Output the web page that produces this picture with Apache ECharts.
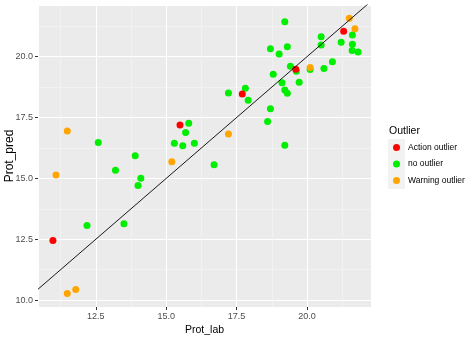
<!DOCTYPE html>
<html>
<head>
<meta charset="utf-8">
<script src="https://cdn.jsdelivr.net/npm/echarts@6/dist/echarts.min.js"></script>
<style>html,body{margin:0;padding:0;background:#fff}#c{width:474px;height:338px}</style>
</head>
<body>
<div id="c"></div>
<script>
var categories = ['Action outlier', 'no outlier', 'Warning outlier'];
var actionX = [10.98, 15.49, 17.70, 19.60, 21.30];
var actionY = [12.45, 17.19, 18.47, 19.48, 21.04];
var warningX = [11.49, 11.09, 11.49, 11.79, 15.20, 17.21, 20.11, 21.50, 21.70];
var warningY = [16.95, 15.14, 10.27, 10.44, 15.68, 16.82, 19.55, 21.58, 21.14];
var noX = [12.59, 13.90, 15.80, 15.69, 15.29, 15.59, 16.00, 13.20, 14.10, 14.00, 12.19, 13.50, 16.70,
  19.21, 20.50, 21.61, 20.50, 21.21, 21.61, 21.60, 21.81, 18.70, 19.01, 19.30, 20.90, 20.60, 20.11,
  19.41, 19.62, 18.80, 19.72, 19.11, 19.21, 19.30, 17.81, 17.21, 17.91, 18.70, 18.60, 19.21];
var noY = [16.47, 15.93, 17.26, 16.89, 16.44, 16.34, 16.44, 15.33, 15.01, 14.71, 13.07, 13.14, 15.56,
  21.43, 20.82, 20.89, 20.48, 20.59, 20.51, 20.25, 20.19, 20.32, 20.11, 20.41, 19.79, 19.51, 19.47,
  19.60, 19.40, 19.28, 18.95, 18.93, 18.63, 18.50, 18.70, 18.51, 18.21, 17.86, 17.34, 16.36];
var colors = ['#FF0000', '#00EE00', '#FFA500'];
var xRange = [10.45, 22.27];
var yRange = [9.72, 22.12];

function zip(a, b) { return a.map(function (v, i) { return [v, b[i]]; }); }

var chart = echarts.init(document.getElementById('c'), null, {renderer: 'canvas'});
var axisCommon = {
  type: 'value',
  minInterval: 2.5,
  maxInterval: 2.5,
  axisLine: {show: false},
  axisTick: {show: true, length: 3, lineStyle: {color: '#333333', width: 1}},
  axisLabel: {color: '#4D4D4D', fontSize: 9, fontFamily: 'Liberation Sans, Arial', showMinLabel: false, showMaxLabel: false,
    margin: 5, formatter: function (v) { return v.toFixed(1); }},
  splitLine: {show: true, lineStyle: {color: '#FFFFFF', width: 1}},
  minorTick: {show: false, splitNumber: 2},
  minorSplitLine: {show: true, lineStyle: {color: '#F5F5F5', width: 0.7}},
  nameLocation: 'middle',
  nameMoveOverlap: false,
  nameTextStyle: {color: '#000', fontSize: 10.5, fontFamily: 'Liberation Sans, Arial'}
};
var xAxis = Object.assign({}, axisCommon, {min: xRange[0], max: xRange[1], name: 'Prot_lab', nameGap: 18});
var yAxis = Object.assign({}, axisCommon, {min: yRange[0], max: yRange[1], name: 'Prot_pred', nameGap: 22,
  nameTextStyle: {color: '#000', fontSize: 12, fontFamily: 'Liberation Sans, Arial'}});

chart.setOption({
  animation: false,
  backgroundColor: '#FFFFFF',
  grid: {left: 38, top: 5, right: 103, bottom: 31, backgroundColor: '#EBEBEB', show: true, borderWidth: 0,
    containLabel: false, outerBoundsMode: 'none'},
  xAxis: xAxis,
  yAxis: yAxis,
  title: {text: 'Outlier', left: 384, top: 121, textStyle: {fontSize: 10.5, fontWeight: 'normal', color: '#000', fontFamily: 'Liberation Sans, Arial'}},
  legend: {
    orient: 'vertical', left: 388, top: 138, itemWidth: 7, itemHeight: 7, itemGap: 7.5, icon: 'circle',
    textStyle: {fontSize: 8.5, color: '#000', fontFamily: 'Liberation Sans, Arial', padding: [0, 0, 0, 3]},
    data: categories
  },
  graphic: [{type: 'rect', left: 388, top: 139, shape: {width: 17, height: 50}, style: {fill: '#F2F2F2'}, z: -1}],
  series: [
    {name: categories[0], type: 'scatter', symbolSize: 7, itemStyle: {color: colors[0], opacity: 1}, data: zip(actionX, actionY), z: 3},
    {name: categories[1], type: 'scatter', symbolSize: 7, itemStyle: {color: colors[1], opacity: 1}, data: zip(noX, noY), z: 2},
    {name: categories[2], type: 'scatter', symbolSize: 7, itemStyle: {color: colors[2], opacity: 1}, data: zip(warningX, warningY), z: 2},
    {type: 'line', data: [[xRange[0], xRange[0]], [xRange[1], xRange[1]]], symbol: 'none', clip: true,
      lineStyle: {color: '#000', width: 0.9}, z: 5, silent: true, legendHoverLink: false}
  ]
});
</script>
</body>
</html>
